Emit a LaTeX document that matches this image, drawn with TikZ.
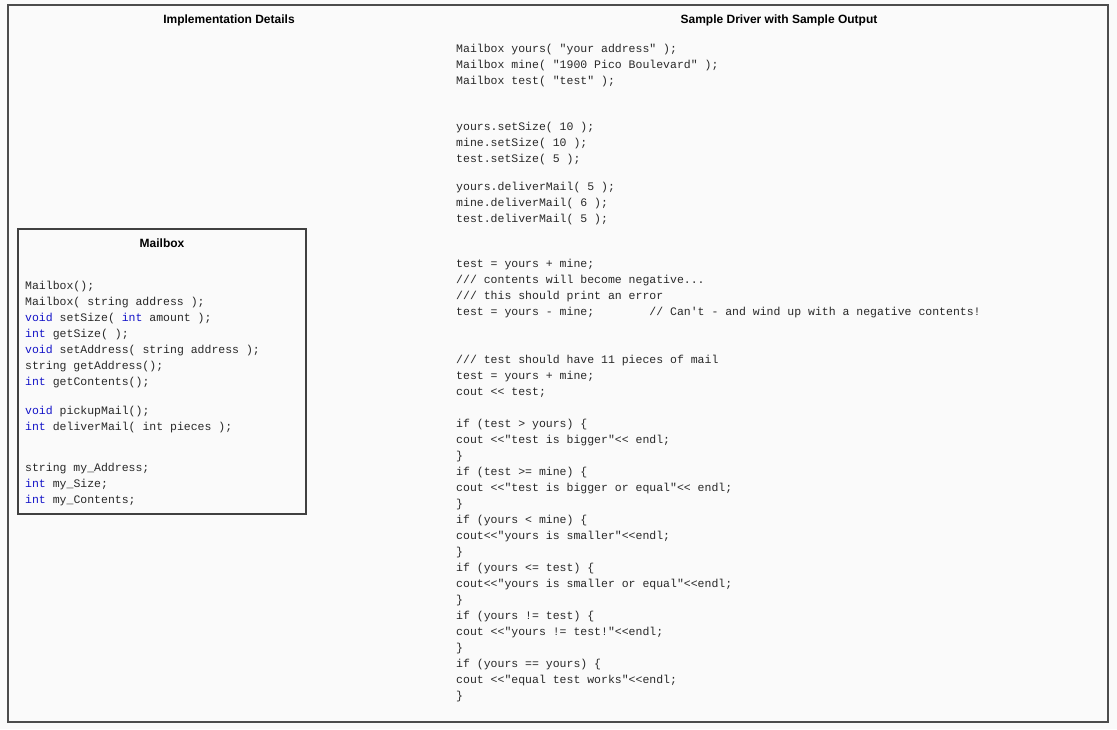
\documentclass[tikz,border=0pt]{standalone}
\usepackage{fontspec}
\setmainfont{Liberation Sans}
\setsansfont{Liberation Sans}
\setmonofont{Liberation Mono}
\definecolor{kw}{RGB}{20,20,200}
\definecolor{txt}{RGB}{40,40,40}
\newcommand{\kk}[1]{\textcolor{kw}{#1}}
\tikzset{code/.style={anchor=base west,inner sep=0pt,font=\fontsize{11.5}{12}\ttfamily,text=txt},
hdr/.style={anchor=base,inner sep=0pt,font=\fontsize{12}{14}\bfseries\sffamily}}
\begin{document}
\begin{tikzpicture}[x=1pt,y=-1pt]
\useasboundingbox (0,0) rectangle (1117,729);
\fill[white!98!black] (0,0) rectangle (1117,729);
\draw[line width=1.5pt,black!70] (8,5) rectangle (1108,722);
\node[hdr] (h1) at (229,23) {Implementation Details};
\node[hdr] (h2) at (779,23) {Sample Driver with Sample Output};
\draw[line width=1.2pt,black!75] (18,229) rectangle (306,514);
\node[hdr] (mb) at (162,247) {Mailbox};
\foreach \y/\t [count=\i] in {
285/{Mailbox();},
301/{Mailbox( string address );},
317/{\kk{void} setSize( \kk{int} amount );},
333/{\kk{int} getSize( );},
349/{\kk{void} setAddress( string address );},
365/{string getAddress();},
381/{\kk{int} getContents();},
410/{\kk{void} pickupMail();},
426/{\kk{int} deliverMail( int pieces );},
467/{string my\_Address;},
483/{\kk{int} my\_Size;},
499/{\kk{int} my\_Contents;}}
  \node[code] (l\i) at (25,\y+4) {\t};
\foreach \y/\t [count=\i] in {
48/{Mailbox yours( "your address" );},
64/{Mailbox mine( "1900 Pico Boulevard" );},
80/{Mailbox test( "test" );},
126/{yours.setSize( 10 );},
142/{mine.setSize( 10 );},
158/{test.setSize( 5 );},
186/{yours.deliverMail( 5 );},
202/{mine.deliverMail( 6 );},
218/{test.deliverMail( 5 );},
263/{test = yours + mine;},
279/{/// contents will become negative...},
295/{/// this should print an error},
311/{test = yours - mine;\ \ \ \ \ \ \ \ // Can't - and wind up with a negative contents!},
359/{/// test should have 11 pieces of mail},
375/{test = yours + mine;},
391/{cout << test;},
423/{if (test > yours) \{},
439/{cout <<"test is bigger"<< endl;},
455/{\}},
471/{if (test >= mine) \{},
487/{cout <<"test is bigger or equal"<< endl;},
503/{\}},
519/{if (yours < mine) \{},
535/{cout<<"yours is smaller"<<endl;},
551/{\}},
567/{if (yours <= test) \{},
583/{cout<<"yours is smaller or equal"<<endl;},
599/{\}},
615/{if (yours != test) \{},
631/{cout <<"yours != test!"<<endl;},
647/{\}},
663/{if (yours == yours) \{},
679/{cout <<"equal test works"<<endl;},
695/{\}}}
  \node[code] (r\i) at (456,\y+4) {\t};
\end{tikzpicture}
\end{document}
